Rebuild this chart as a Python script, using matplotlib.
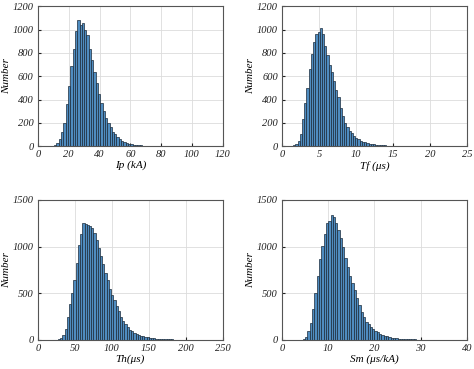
import matplotlib
matplotlib.use("Agg")
import matplotlib.pyplot as plt

# Ip (kA): bin width 1.5, first bin centre 6.75
ip_start, ip_width = 6.75, 1.5
ip_counts = [1, 2, 5, 12, 30, 60, 120, 200, 360, 520, 690, 830, 985, 1080,
             1040, 1055, 1000, 950, 830, 740, 640, 540, 450, 370, 300, 245,
             200, 160, 125, 100, 80, 62, 48, 36, 28, 21, 16, 12, 10, 8, 6, 5,
             4, 3, 3, 2, 2, 1, 1, 1]

# Tf (us): bin width 0.3, first bin centre 1.05
tf_start, tf_width = 1.05, 0.3
tf_counts = [1, 2, 6, 15, 40, 100, 230, 370, 500, 660, 790, 890, 960, 975,
             1010, 960, 860, 780, 700, 635, 560, 480, 420, 330, 260, 200, 160,
             130, 110, 90, 70, 58, 48, 38, 32, 27, 21, 17, 14, 12, 10, 8, 7, 6,
             5, 4, 3, 3, 2, 2, 1, 1, 1]

# Th (us): bin width 3, first bin centre 22.5
th_start, th_width = 22.5, 3.0
th_counts = [1, 3, 8, 20, 50, 120, 240, 380, 500, 640, 820, 1020, 1130, 1250,
             1245, 1230, 1220, 1200, 1150, 1075, 990, 900, 810, 720, 640, 550,
             485, 430, 360, 310, 250, 200, 170, 135, 110, 95, 78, 62, 52, 42,
             36, 31, 27, 22, 18, 15, 12, 10, 9, 8, 7, 6, 5, 4, 3, 3, 2, 2, 2, 1]

# Sm (us/kA): bin width 0.5, first bin centre 3.75
sm_start, sm_width = 3.75, 0.5
sm_counts = [1, 3, 10, 35, 90, 180, 330, 500, 680, 870, 1010, 1130, 1250, 1280,
             1340, 1320, 1250, 1180, 1090, 1000, 880, 780, 690, 610, 530, 450,
             370, 300, 240, 195, 165, 135, 112, 95, 82, 68, 55, 45, 36, 30, 25,
             20, 16, 13, 11, 9, 7, 6, 5, 4, 4, 3, 3, 2, 2, 2, 1, 1, 1, 1]

panels = [
    (ip_start, ip_width, ip_counts, "Ip (kA)", (0, 120), range(0, 121, 20), (0, 1200), range(0, 1201, 200)),
    (tf_start, tf_width, tf_counts, "Tf (\u03bcs)", (0, 25), range(0, 26, 5), (0, 1200), range(0, 1201, 200)),
    (th_start, th_width, th_counts, "Th(\u03bcs)", (0, 250), range(0, 251, 50), (0, 1500), range(0, 1501, 500)),
    (sm_start, sm_width, sm_counts, "Sm (\u03bcs/kA)", (0, 40), range(0, 41, 10), (0, 1500), range(0, 1501, 500)),
]

positions = [
    [0.080, 0.604, 0.390, 0.379],
    [0.595, 0.604, 0.390, 0.379],
    [0.080, 0.079, 0.390, 0.379],
    [0.595, 0.079, 0.390, 0.379],
]

plt.rcParams["font.family"] = ["Liberation Serif", "DejaVu Serif"]
plt.rcParams["font.style"] = "italic"

fig = plt.figure(figsize=(4.74, 3.69), dpi=100)

for (start, width, counts, xlabel, xlim, xticks, ylim, yticks), pos in zip(panels, positions):
    ax = fig.add_axes(pos)
    centres = [start + i * width for i in range(len(counts))]
    ax.bar(centres, counts, width=width, color="#4f8cc0",
           edgecolor="#1c2b3a", linewidth=0.5)
    ax.set_xlim(*xlim)
    ax.set_ylim(*ylim)
    ax.set_xticks(list(xticks))
    ax.set_yticks(list(yticks))
    ax.grid(True, color="#dcdcdc", linewidth=0.6)
    ax.set_axisbelow(True)
    ax.tick_params(direction="in", length=2, labelsize=7.5, colors="#222222",
                   pad=3)
    for s in ax.spines.values():
        s.set_color("#555555")
        s.set_linewidth(0.8)
    ax.set_xlabel(xlabel, fontsize=8, labelpad=1)
    ax.set_ylabel("Number", fontsize=8, labelpad=1)

fig.savefig("out.png", dpi=100)
